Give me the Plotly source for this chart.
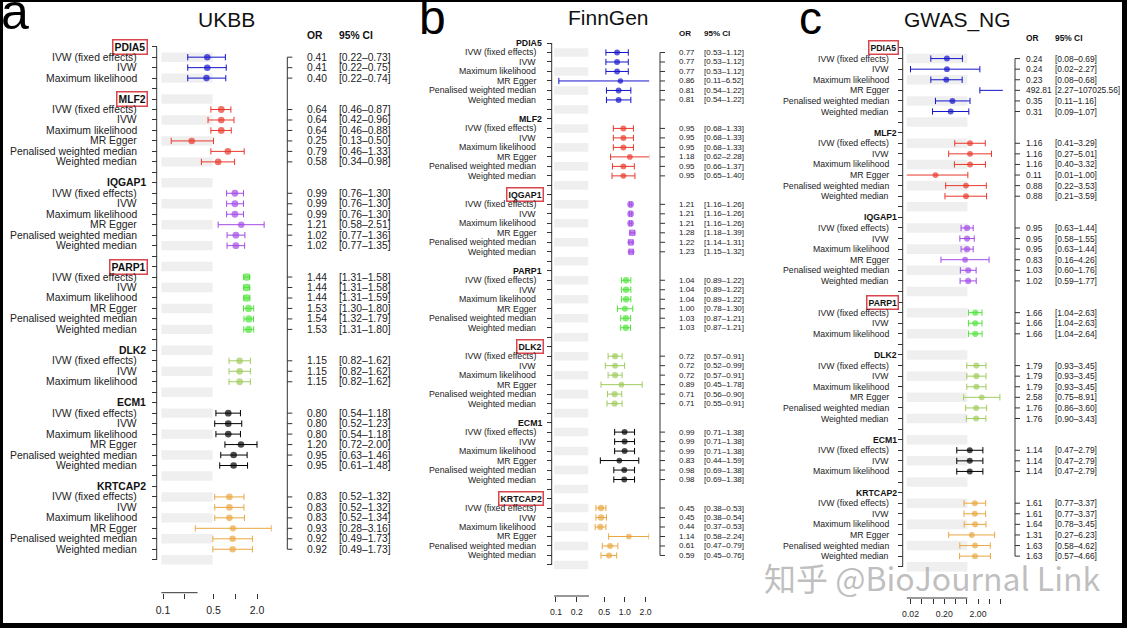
import math
import plotly.graph_objects as go

W, H = 1127, 628

GENES = ["PDIA5", "MLF2", "IQGAP1", "PARP1", "DLK2", "ECM1", "KRTCAP2"]
METHODS = ["IVW (fixed effects)", "IVW", "Maximum likelihood", "MR Egger",
           "Penalised weighted median", "Weighted median"]
GENE_COLORS = ["#1414CC", "#E8392B", "#A24BE8", "#50E33C", "#A0CC5C", "#000000", "#E9A742"]

# ---------------- UKBB ----------------
UKBB_NMETH = [3, 6, 6, 6, 3, 6, 6]
UKBB_OR = [[0.41, 0.41, 0.40],
           [0.64, 0.64, 0.64, 0.25, 0.79, 0.58],
           [0.99, 0.99, 0.99, 1.21, 1.02, 1.02],
           [1.44, 1.44, 1.44, 1.53, 1.54, 1.53],
           [1.15, 1.15, 1.15],
           [0.80, 0.80, 0.80, 1.20, 0.95, 0.95],
           [0.83, 0.83, 0.83, 0.93, 0.92, 0.92]]
UKBB_LO = [[0.22, 0.22, 0.22],
           [0.46, 0.42, 0.46, 0.13, 0.46, 0.34],
           [0.76, 0.76, 0.76, 0.58, 0.77, 0.77],
           [1.31, 1.31, 1.31, 1.30, 1.32, 1.31],
           [0.82, 0.82, 0.82],
           [0.54, 0.52, 0.54, 0.72, 0.63, 0.61],
           [0.52, 0.52, 0.52, 0.28, 0.49, 0.49]]
UKBB_HI = [[0.73, 0.75, 0.74],
           [0.87, 0.96, 0.88, 0.50, 1.33, 0.98],
           [1.30, 1.30, 1.30, 2.51, 1.36, 1.35],
           [1.58, 1.58, 1.59, 1.80, 1.79, 1.80],
           [1.62, 1.62, 1.62],
           [1.18, 1.23, 1.18, 2.00, 1.46, 1.48],
           [1.32, 1.32, 1.34, 3.16, 1.73, 1.73]]
UKBB_BOXED = ["PDIA5", "MLF2", "PARP1"]
UKBB_TICKS = [0.1, 0.2, 0.5, 1.0, 2.0]
UKBB_TICKTEXT = ["0.1", "", "0.5", "", "2.0"]

# ---------------- FinnGen ----------------
FINN_NMETH = [6, 6, 6, 6, 6, 6, 6]
FINN_OR = [[0.77, 0.77, 0.77, 0.86, 0.81, 0.81],
           [0.95, 0.95, 0.95, 1.18, 0.95, 0.95],
           [1.21, 1.21, 1.21, 1.28, 1.22, 1.23],
           [1.04, 1.04, 1.04, 1.00, 1.03, 1.03],
           [0.72, 0.72, 0.72, 0.89, 0.71, 0.71],
           [0.99, 0.99, 0.99, 0.83, 0.98, 0.98],
           [0.45, 0.45, 0.44, 1.14, 0.61, 0.59]]
FINN_LO = [[0.53, 0.53, 0.53, 0.11, 0.54, 0.54],
           [0.68, 0.68, 0.68, 0.62, 0.66, 0.65],
           [1.16, 1.16, 1.16, 1.18, 1.14, 1.15],
           [0.89, 0.89, 0.89, 0.78, 0.87, 0.87],
           [0.57, 0.52, 0.57, 0.45, 0.56, 0.55],
           [0.71, 0.71, 0.71, 0.44, 0.69, 0.69],
           [0.38, 0.38, 0.37, 0.58, 0.47, 0.45]]
FINN_HI = [[1.12, 1.12, 1.12, 6.52, 1.22, 1.22],
           [1.33, 1.33, 1.33, 2.28, 1.37, 1.40],
           [1.26, 1.26, 1.26, 1.39, 1.31, 1.32],
           [1.22, 1.22, 1.22, 1.30, 1.21, 1.21],
           [0.91, 0.99, 0.91, 1.78, 0.90, 0.91],
           [1.38, 1.38, 1.38, 1.59, 1.38, 1.38],
           [0.53, 0.54, 0.53, 2.24, 0.79, 0.76]]
FINN_BOXED = ["IQGAP1", "DLK2", "KRTCAP2"]
FINN_TICKS = [0.1, 0.2, 0.5, 1.0, 2.0]
FINN_TICKTEXT = ["0.1", "0.2", "0.5", "1.0", "2.0"]

# ---------------- GWAS_NG ----------------
GWAS_NMETH = [6, 6, 6, 3, 6, 3, 6]
GWAS_OR = [[0.24, 0.24, 0.23, 492.81, 0.35, 0.31],
           [1.16, 1.16, 1.16, 0.11, 0.88, 0.88],
           [0.95, 0.95, 0.95, 0.83, 1.03, 1.02],
           [1.66, 1.66, 1.66],
           [1.79, 1.79, 1.79, 2.58, 1.76, 1.76],
           [1.14, 1.14, 1.14],
           [1.61, 1.61, 1.64, 1.31, 1.63, 1.63]]
GWAS_LO = [[0.08, 0.02, 0.08, 2.27, 0.11, 0.09],
           [0.41, 0.27, 0.40, 0.01, 0.22, 0.21],
           [0.63, 0.58, 0.63, 0.16, 0.60, 0.59],
           [1.04, 1.04, 1.04],
           [0.93, 0.93, 0.93, 0.75, 0.86, 0.90],
           [0.47, 0.47, 0.47],
           [0.77, 0.77, 0.78, 0.27, 0.58, 0.57]]
GWAS_HI = [[0.69, 2.27, 0.68, 107025.56, 1.16, 1.07],
           [3.29, 5.01, 3.32, 1.00, 3.53, 3.59],
           [1.44, 1.55, 1.44, 4.26, 1.76, 1.77],
           [2.63, 2.63, 2.64],
           [3.45, 3.45, 3.45, 8.91, 3.60, 3.43],
           [2.79, 2.79, 2.79],
           [3.37, 3.37, 3.45, 6.23, 4.62, 4.66]]
GWAS_BOXED = ["PDIA5", "PARP1"]
GWAS_TICKS = [0.02, 0.043, 0.093, 0.2, 0.43, 0.93, 2.0, 4.3, 9.3]
GWAS_TICKTEXT = ["0.02", "", "", "0.20", "", "", "2.00", "", ""]

FONT = "Liberation Sans, Arial, Helvetica, sans-serif"

# layout geometry (pixels), not data
PANELS = [
    dict(letter="a", title="UKBB", nmeth=UKBB_NMETH, OR=UKBB_OR, LO=UKBB_LO, HI=UKBB_HI,
         boxed=UKBB_BOXED, ticks=UKBB_TICKS, ticktext=UKBB_TICKTEXT,
         ref=(0.1, 163.0), ppd=72.25, rng=(0.095, 3.2), stripe=(0.1, 3.06),
         row0=46.7, sp=10.47, yaxis_px=156.7, gene_px=148, meth_px=139, brk_px=287.3,
         or_px=305, ci_px=337, hdr_y=35, xaxis_y=592.7, fs=10.4, fs_num=10.3, fs_tick=10.5,
         title_xy=(226, 19), letter_xy=(-1, 12), letter_fs=50, dot=5.8),
    dict(letter="b", title="FinnGen", nmeth=FINN_NMETH, OR=FINN_OR, LO=FINN_LO, HI=FINN_HI,
         boxed=FINN_BOXED, ticks=FINN_TICKS, ticktext=FINN_TICKTEXT,
         ref=(0.1, 556.0), ppd=68.9, rng=(0.094, 2.25), stripe=(0.1, 1.97),
         row0=43.0, sp=9.49, yaxis_px=551.7, gene_px=544, meth_px=537.5, brk_px=660,
         or_px=677, ci_px=702, hdr_y=34, xaxis_y=596, fs=8.75, fs_num=8.0, fs_tick=8.7,
         title_xy=(608, 18), letter_xy=(417, 17), letter_fs=48, dot=5.0),
    dict(letter="c", title="GWAS_NG", nmeth=GWAS_NMETH, OR=GWAS_OR, LO=GWAS_LO, HI=GWAS_HI,
         boxed=GWAS_BOXED, ticks=GWAS_TICKS, ticktext=GWAS_TICKTEXT,
         ref=(0.02, 910.5), ppd=33.75, rng=(0.0155, 10.9), stripe=(0.02, 9.3),
         row0=48.0, sp=10.586, yaxis_px=902.7, gene_px=899, meth_px=891.5, brk_px=1015,
         or_px=1024, ci_px=1053, hdr_y=38, xaxis_y=598, fs=8.7, fs_num=8.4, fs_tick=8.7,
         title_xy=(957, 20), letter_xy=(797, 18), letter_fs=46, dot=5.4),
]


def fx(px):
    return px / W


def fy(py):
    return 1 - py / H


def build_rows(nmeth):
    rows = []
    for g, n in enumerate(nmeth):
        rows.append(("gene", g, None))
        for m in range(n):
            rows.append(("method", g, m))
        if g < len(nmeth) - 1:
            rows.append(("blank", g, None))
    rows.append(("blank", None, None))
    return rows


fig = go.Figure()
shapes = []
annotations = []
layout_axes = {}

# black frame
for (x0, x1, y0, y1) in [(0, W, 0, 2), (0, 3, 0, H), (W - 5, W, 0, H), (0, W, H - 5, H)]:
    shapes.append(dict(type="rect", xref="paper", yref="paper",
                       x0=fx(x0), x1=fx(x1), y0=fy(y1), y1=fy(y0),
                       fillcolor="black", line=dict(width=0), layer="above"))

for i, P in enumerate(PANELS):
    sfx = "" if i == 0 else str(i + 1)
    xa, ya = "x" + sfx, "y" + sfx
    rows = build_rows(P["nmeth"])
    nrows = len(rows)
    refv, refpx = P["ref"]
    ppd = P["ppd"]
    lo_px = refpx + ppd * math.log10(P["rng"][0] / refv)
    hi_px = refpx + ppd * math.log10(P["rng"][1] / refv)
    top_px = P["row0"] - P["sp"] / 2
    bot_px = P["row0"] + P["sp"] * (nrows - 1) + P["sp"] / 2

    layout_axes["xaxis" + sfx] = dict(
        type="log", domain=[fx(lo_px), fx(hi_px)],
        range=[math.log10(P["rng"][0]), math.log10(P["rng"][1])],
        anchor="free", position=fy(P["xaxis_y"]), automargin=False,
        tickmode="array", tickvals=P["ticks"], ticktext=P["ticktext"],
        ticks="outside", ticklen=5, tickwidth=1, tickcolor="#333", ticklabelstandoff=3,
        tickfont=dict(family=FONT, size=P["fs_tick"], color="#222"),
        showgrid=False, zeroline=False, showline=False, fixedrange=True)
    layout_axes["yaxis" + sfx] = dict(
        domain=[fy(bot_px), fy(top_px)], range=[nrows - 0.5, -0.5],
        anchor="free", position=fx(P["yaxis_px"]), automargin=False,
        tickmode="array", tickvals=list(range(nrows)), showticklabels=False,
        ticks="outside", ticklen=5, tickwidth=1, tickcolor="#333",
        showgrid=False, zeroline=False, showline=False, fixedrange=True)

    # stripes on odd rows
    for r in range(1, nrows, 2):
        shapes.append(dict(type="rect", xref=xa, yref=ya,
                           x0=math.log10(P["stripe"][0]), x1=math.log10(P["stripe"][1]),
                           y0=r - 0.45, y1=r + 0.45, fillcolor="#EFEFEF",
                           line=dict(width=0), layer="below"))
    # reference line at OR = 1
    shapes.append(dict(type="line", xref=xa, yref="paper", x0=0, x1=0,
                       y0=fy(P["xaxis_y"]), y1=fy(P["row0"] + 0.5 * P["sp"]),
                       line=dict(color="#9A9A9A", width=1, dash="dot"), layer="below"))
    # bottom axis line from first to last tick
    shapes.append(dict(type="line", xref=xa, yref="paper",
                       x0=math.log10(P["ticks"][0]), x1=math.log10(P["ticks"][-1]),
                       y0=fy(P["xaxis_y"]), y1=fy(P["xaxis_y"]),
                       line=dict(color="#333", width=1)))
    # left axis line
    shapes.append(dict(type="line", xref="paper", yref=ya,
                       x0=fx(P["yaxis_px"]), x1=fx(P["yaxis_px"]), y0=0, y1=nrows - 1,
                       line=dict(color="#333", width=1)))

    data_rows = [r for r, row in enumerate(rows) if row[0] == "method"]
    # right bracket
    shapes.append(dict(type="line", xref="paper", yref=ya,
                       x0=fx(P["brk_px"]), x1=fx(P["brk_px"]),
                       y0=data_rows[0], y1=data_rows[-1],
                       line=dict(color="#333", width=1)))
    for r in data_rows:
        shapes.append(dict(type="line", xref="paper", yref=ya,
                           x0=fx(P["brk_px"]), x1=fx(P["brk_px"] + 5), y0=r, y1=r,
                           line=dict(color="#333", width=1)))

    # titles / letters / headers
    annotations.append(dict(text=P["title"], xref="paper", yref="paper",
                            x=fx(P["title_xy"][0]), y=fy(P["title_xy"][1]),
                            xanchor="center", yanchor="middle", showarrow=False,
                            font=dict(family=FONT, size=21, color="#111")))
    annotations.append(dict(text=P["letter"], xref="paper", yref="paper",
                            x=fx(P["letter_xy"][0]), y=fy(P["letter_xy"][1]),
                            xanchor="left", yanchor="middle", showarrow=False,
                            font=dict(family=FONT, size=P["letter_fs"], color="#000")))
    annotations.append(dict(text="<b>OR</b>", xref="paper", yref="paper",
                            x=fx(P["or_px"]), y=fy(P["hdr_y"]), xanchor="left",
                            yanchor="middle", showarrow=False,
                            font=dict(family=FONT, size=P["fs_num"], color="#111")))
    annotations.append(dict(text="<b>95% CI</b>", xref="paper", yref="paper",
                            x=fx(P["ci_px"]), y=fy(P["hdr_y"]), xanchor="left",
                            yanchor="middle", showarrow=False,
                            font=dict(family=FONT, size=P["fs_num"], color="#111")))

    # row labels and values
    for r, (kind, g, m) in enumerate(rows):
        if kind == "gene":
            boxed = GENES[g] in P["boxed"]
            ann = dict(text="<b>%s</b>" % GENES[g], xref="paper", yref=ya,
                       x=fx(P["gene_px"]), y=r, xanchor="right", yanchor="middle",
                       showarrow=False, font=dict(family=FONT, size=P["fs"], color="#111"))
            if boxed:
                ann.update(bordercolor="#D9454C", borderwidth=1.5, borderpad=1, bgcolor="white")
            annotations.append(ann)
        elif kind == "method":
            annotations.append(dict(text=METHODS[m], xref="paper", yref=ya,
                                    x=fx(P["meth_px"]), y=r, xanchor="right", yanchor="middle",
                                    showarrow=False,
                                    font=dict(family=FONT, size=P["fs"], color="#222")))
            orv = P["OR"][g][m]
            lo = P["LO"][g][m]
            hi = P["HI"][g][m]
            annotations.append(dict(text="%.2f" % orv, xref="paper", yref=ya,
                                    x=fx(P["or_px"]), y=r, xanchor="left", yanchor="middle",
                                    showarrow=False,
                                    font=dict(family=FONT, size=P["fs_num"], color="#222")))
            annotations.append(dict(text="[%.2f\u2013%.2f]" % (lo, hi), xref="paper", yref=ya,
                                    x=fx(P["ci_px"]), y=r, xanchor="left", yanchor="middle",
                                    showarrow=False,
                                    font=dict(family=FONT, size=P["fs_num"], color="#222")))

    # traces per gene
    for g, gene in enumerate(GENES):
        ys = [r for r, row in enumerate(rows) if row[0] == "method" and row[1] == g]
        ors = P["OR"][g]
        los = P["LO"][g]
        his = P["HI"][g]
        col = GENE_COLORS[g]
        lx, ly = [], []
        for y, lo, hi in zip(ys, los, his):
            lx += [lo, hi, None]
            ly += [y, y, None]
        fig.add_trace(go.Scatter(x=lx, y=ly, mode="lines", xaxis=xa, yaxis=ya,
                                 line=dict(color=col, width=1), hoverinfo="skip",
                                 showlegend=False))
        fig.add_trace(go.Scatter(x=los + his, y=ys + ys, mode="markers", xaxis=xa, yaxis=ya,
                                 marker=dict(symbol="line-ns", size=4.5, color=col,
                                             line=dict(color=col, width=1)),
                                 hoverinfo="skip", showlegend=False))
        sizes = []
        for lo, hi in zip(los, his):
            se = math.log(hi / lo) / 3.92
            sizes.append(P["dot"] + 1.8 * min(1.0, 0.05 / se) ** 0.5)
        fig.add_trace(go.Scatter(x=ors, y=ys, mode="markers", xaxis=xa, yaxis=ya,
                                 marker=dict(size=sizes, color=col, line=dict(width=0)),
                                 name=gene, showlegend=False))

# watermark
annotations.append(dict(text="知乎 @BioJournal Link", xref="paper", yref="paper",
                        x=fx(1102), y=fy(577), xanchor="right", yanchor="middle",
                        showarrow=False,
                        font=dict(family="Noto Sans CJK SC, Liberation Sans, sans-serif",
                                  size=32, color="rgba(170,170,170,0.75)")))

fig.update_layout(
    template="none",
    width=W, height=H, margin=dict(l=0, r=0, t=0, b=0, pad=0),
    paper_bgcolor="white", plot_bgcolor="rgba(0,0,0,0)",
    shapes=shapes, annotations=annotations, showlegend=False,
    font=dict(family=FONT),
    **layout_axes)

fig.write_html("out.html",
               config={"displayModeBar": False, "staticPlot": True},
               post_script="document.body.style.margin='0px';"
                           "document.body.style.overflow='hidden';")
